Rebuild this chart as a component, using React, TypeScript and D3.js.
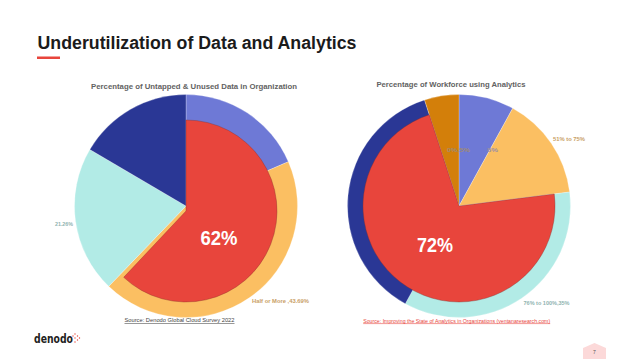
import React from "react";
import * as d3 from "d3";

// ---- Data ----
const leftCategories = ["Less than a quarter", "Half or More", "21.26%", "A quarter"];
const leftValues = [18.5, 43.69, 21.26, 16.55];
const leftHighlight = [62, 38];

const rightCategories = ["0% to 25%", "51% to 75%", "76% to 100%", "26% to 50%", "0%"];
const rightValues = [8, 15, 35, 37, 5];
const rightHighlight = [72, 28];

const leftColors = ["#6e79d6", "#fbbf62", "#b2ebe6", "#2a3795"];
const rightColors = ["#6e79d6", "#fbbf62", "#b2ebe6", "#2a3795", "#d37f0a"];

const W = 638;
const H = 359;

function Pie({ cx, cy, r, values, colors }: { cx: number; cy: number; r: number; values: number[]; colors: string[] }) {
  const pie = d3.pie<number>().sort(null).value((d) => d);
  const arcs = pie(values);
  const arc = d3.arc<d3.PieArcDatum<number>>().innerRadius(0).outerRadius(r);
  return (
    <g transform={`translate(${cx},${cy})`}>
      {arcs.map((a, i) => (
        <path key={i} d={arc(a) || ""} fill={colors[i]} stroke="#ffffff" strokeOpacity={0.5} strokeWidth={0.5} />
      ))}
    </g>
  );
}

function Highlight({ cx, cy, r, values, start }: { cx: number; cy: number; r: number; values: number[]; start: number }) {
  const pie = d3
    .pie<number>()
    .sort(null)
    .value((d) => d)
    .startAngle(start)
    .endAngle(start + 2 * Math.PI);
  const a = pie(values)[0];
  const arc = d3.arc<d3.PieArcDatum<number>>().innerRadius(0).outerRadius(r);
  return (
    <g transform={`translate(${cx},${cy})`}>
      <path d={arc(a) || ""} fill="#e8453c" stroke="#8a2f2a" strokeOpacity={0.55} strokeWidth={0.7} />
    </g>
  );
}

export default function App() {
  const rightStart = (2 * Math.PI * (rightValues[0] + rightValues[1])) / d3.sum(rightValues);
  const bold = "'Liberation Sans', Arial, sans-serif";
  return (
    <svg width={W} height={H} style={{ position: "absolute", left: 0, top: 0, background: "#ffffff" }} fontFamily={bold}>
      <rect x={0} y={0} width={W} height={H} fill="#ffffff" />
      {/* Main title */}
      <text x={37.5} y={48.5} fontSize={17.5} fontWeight={700} fill="#1b1b1b" textLength={319} lengthAdjust="spacingAndGlyphs">
        Underutilization of Data and Analytics
      </text>
      <rect x={37} y={56.5} width={23} height={2.5} fill="#e8453c" />

      {/* Left chart */}
      <text x={194} y={89.3} fontSize={7} fontWeight={700} fill="#626262" textAnchor="middle" textLength={206} lengthAdjust="spacingAndGlyphs">
        Percentage of Untapped &amp; Unused Data in Organization
      </text>
      <Pie cx={186} cy={206} r={111.5} values={leftValues} colors={leftColors} />
      <Highlight cx={186} cy={211} r={91} values={leftHighlight} start={0} />
      <text x={219} y={239} fontSize={21} fontWeight={700} fill="#ffffff" textAnchor="middle" dominantBaseline="middle" textLength={37} lengthAdjust="spacingAndGlyphs">
        62%
      </text>
      <text x={55} y={226} fontSize={5} fontWeight={700} fill="#8fb3b0" textLength={18} lengthAdjust="spacingAndGlyphs">
        {leftCategories[2]}
      </text>
      <text x={252} y={303} fontSize={5} fontWeight={700} fill="#c9a066" textLength={57} lengthAdjust="spacingAndGlyphs">
        {`${leftCategories[1]} ,${leftValues[1].toFixed(2)}%`}
      </text>
      <text x={179.5} y={322} fontSize={5.5} fill="#444444" textAnchor="middle" textDecoration="underline" textLength={110} lengthAdjust="spacingAndGlyphs">
        Source: Denodo Global Cloud Survey 2022
      </text>

      {/* Right chart */}
      <text x={451} y={87.3} fontSize={7} fontWeight={700} fill="#626262" textAnchor="middle" textLength={149} lengthAdjust="spacingAndGlyphs">
        Percentage of Workforce using Analytics
      </text>
      <Pie cx={459} cy={206} r={111.5} values={rightValues} colors={rightColors} />
      <Highlight cx={459} cy={206} r={96} values={rightHighlight} start={rightStart} />
      <text x={435} y={246} fontSize={21} fontWeight={700} fill="#ffffff" textAnchor="middle" dominantBaseline="middle" textLength={36} lengthAdjust="spacingAndGlyphs">
        72%
      </text>
      <text x={447} y={152} fontSize={5} fontWeight={700} fill="#a08a70" textLength={23} lengthAdjust="spacingAndGlyphs">
        {`${rightCategories[4]},${rightValues[4]}%`}
      </text>
      <text x={487} y={152} fontSize={5} fontWeight={700} fill="#9a8fa8" textLength={11} lengthAdjust="spacingAndGlyphs">
        {`${rightValues[0]}%`}
      </text>
      <text x={553} y={141} fontSize={5} fontWeight={700} fill="#c9a066" textLength={32} lengthAdjust="spacingAndGlyphs">
        {rightCategories[1]}
      </text>
      <text x={523.5} y={304.5} fontSize={5} fontWeight={700} fill="#8fb3b0" textLength={46} lengthAdjust="spacingAndGlyphs">
        {`${rightCategories[2]},${rightValues[2]}%`}
      </text>
      <text x={456.7} y={322.5} fontSize={5.5} fill="#e8453c" textAnchor="middle" textDecoration="underline" textLength={187} lengthAdjust="spacingAndGlyphs">
        Source: Improving the State of Analytics in Organizations (ventanaresearch.com)
      </text>

      {/* Footer logo */}
      <text x={34} y={343} fontSize={11.5} fontWeight={700} fill="#222222" fontFamily="'DejaVu Sans', sans-serif" textLength={39} lengthAdjust="spacingAndGlyphs">
        denodo
      </text>
      {[
        [75, 334],
        [77.5, 336],
        [75, 338],
        [77.5, 340],
        [73, 336],
        [79.5, 338],
        [75, 342],
      ].map(([x, y], i) => (
        <circle key={i} cx={x} cy={y} r={0.7} fill="#e8453c" />
      ))}

      {/* Page number */}
      <polygon points="583,348 594.5,343 606,348 606,359 583,359" fill="#fcd9d9" />
      <text x={594.5} y={354} fontSize={5} fill="#555555" textAnchor="middle">
        7
      </text>
    </svg>
  );
}
